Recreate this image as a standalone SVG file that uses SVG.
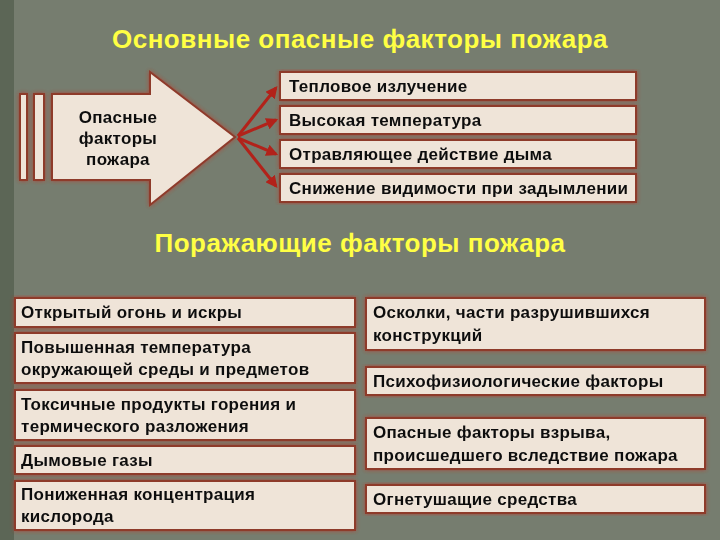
<svg xmlns="http://www.w3.org/2000/svg" width="720" height="540" viewBox="0 0 720 540">
<defs>
<style>
.b{fill:#efe4d8;stroke:#8e3a2c;stroke-width:2}
.t{font-family:"Liberation Sans",Arial,sans-serif;font-size:17px;letter-spacing:0.3px;font-weight:bold;fill:#111}
.h{font-family:"Liberation Sans",Arial,sans-serif;font-size:26px;letter-spacing:0.5px;font-weight:bold;fill:#ffff44;text-anchor:middle}
.c{stroke:#b2221a;stroke-width:3;fill:none}
</style>
<marker id="m" viewBox="0 0 10 10" refX="8" refY="5" markerWidth="4" markerHeight="4" orient="auto"><path d="M0,0L10,5L0,10z" fill="#b2221a"/></marker>
<filter id="g" x="-10%" y="-10%" width="120%" height="120%"><feDropShadow dx="0" dy="0" stdDeviation="2" flood-color="#c03020" flood-opacity="0.7"/></filter>
</defs>
<rect width="720" height="540" fill="#767d6f"/>
<rect width="14" height="540" fill="#5c6656"/>
<text class="h" x="360" y="48">Основные опасные факторы пожара</text>
<text class="h" x="360" y="252">Поражающие факторы пожара</text>
<g id="arrow" filter="url(#g)">
<rect class="b" x="20" y="94" width="7" height="86"/>
<rect class="b" x="34" y="94" width="10" height="86"/>
<path class="b" d="M52,94H150V72L235,137L150,205V180H52Z"/>
<text class="t" text-anchor="middle" x="118" y="123">Опасные</text>
<text class="t" text-anchor="middle" x="118" y="144">факторы</text>
<text class="t" text-anchor="middle" x="118" y="165">пожара</text>
</g>
<g id="connectors">
<line class="c" x1="238" y1="136" x2="276" y2="88" marker-end="url(#m)"/>
<line class="c" x1="238" y1="136" x2="276" y2="120" marker-end="url(#m)"/>
<line class="c" x1="238" y1="138" x2="276" y2="154" marker-end="url(#m)"/>
<line class="c" x1="238" y1="138" x2="276" y2="186" marker-end="url(#m)"/>
</g>
<g id="r1" filter="url(#g)"><rect class="b" x="280" y="72" width="356" height="28"/><text class="t" x="289" y="92">Тепловое излучение</text></g>
<g id="r2" filter="url(#g)"><rect class="b" x="280" y="106" width="356" height="28"/><text class="t" x="289" y="126">Высокая температура</text></g>
<g id="r3" filter="url(#g)"><rect class="b" x="280" y="140" width="356" height="28"/><text class="t" x="289" y="160">Отравляющее действие дыма</text></g>
<g id="r4" filter="url(#g)"><rect class="b" x="280" y="174" width="356" height="28"/><text class="t" x="289" y="194">Снижение видимости при задымлении</text></g>
<g id="l1" filter="url(#g)"><rect class="b" x="15" y="298" width="340" height="29"/><text class="t" x="21" y="318">Открытый огонь и искры</text></g>
<g id="l2" filter="url(#g)"><rect class="b" x="15" y="333" width="340" height="50"/><text class="t" x="21" y="353">Повышенная температура</text><text class="t" x="21" y="375">окружающей среды и предметов</text></g>
<g id="l3" filter="url(#g)"><rect class="b" x="15" y="390" width="340" height="50"/><text class="t" x="21" y="410">Токсичные продукты горения и</text><text class="t" x="21" y="432">термического разложения</text></g>
<g id="l4" filter="url(#g)"><rect class="b" x="15" y="446" width="340" height="28"/><text class="t" x="21" y="466">Дымовые газы</text></g>
<g id="l5" filter="url(#g)"><rect class="b" x="15" y="481" width="340" height="49"/><text class="t" x="21" y="500">Пониженная концентрация</text><text class="t" x="21" y="522">кислорода</text></g>
<g id="p1" filter="url(#g)"><rect class="b" x="366" y="298" width="339" height="52"/><text class="t" x="373" y="318">Осколки, части разрушившихся</text><text class="t" x="373" y="341">конструкций</text></g>
<g id="p2" filter="url(#g)"><rect class="b" x="366" y="367" width="339" height="28"/><text class="t" x="373" y="387">Психофизиологические факторы</text></g>
<g id="p3" filter="url(#g)"><rect class="b" x="366" y="418" width="339" height="51"/><text class="t" x="373" y="438">Опасные факторы взрыва,</text><text class="t" x="373" y="461">происшедшего вследствие пожара</text></g>
<g id="p4" filter="url(#g)"><rect class="b" x="366" y="485" width="339" height="28"/><text class="t" x="373" y="505">Огнетушащие средства</text></g>
</svg>
